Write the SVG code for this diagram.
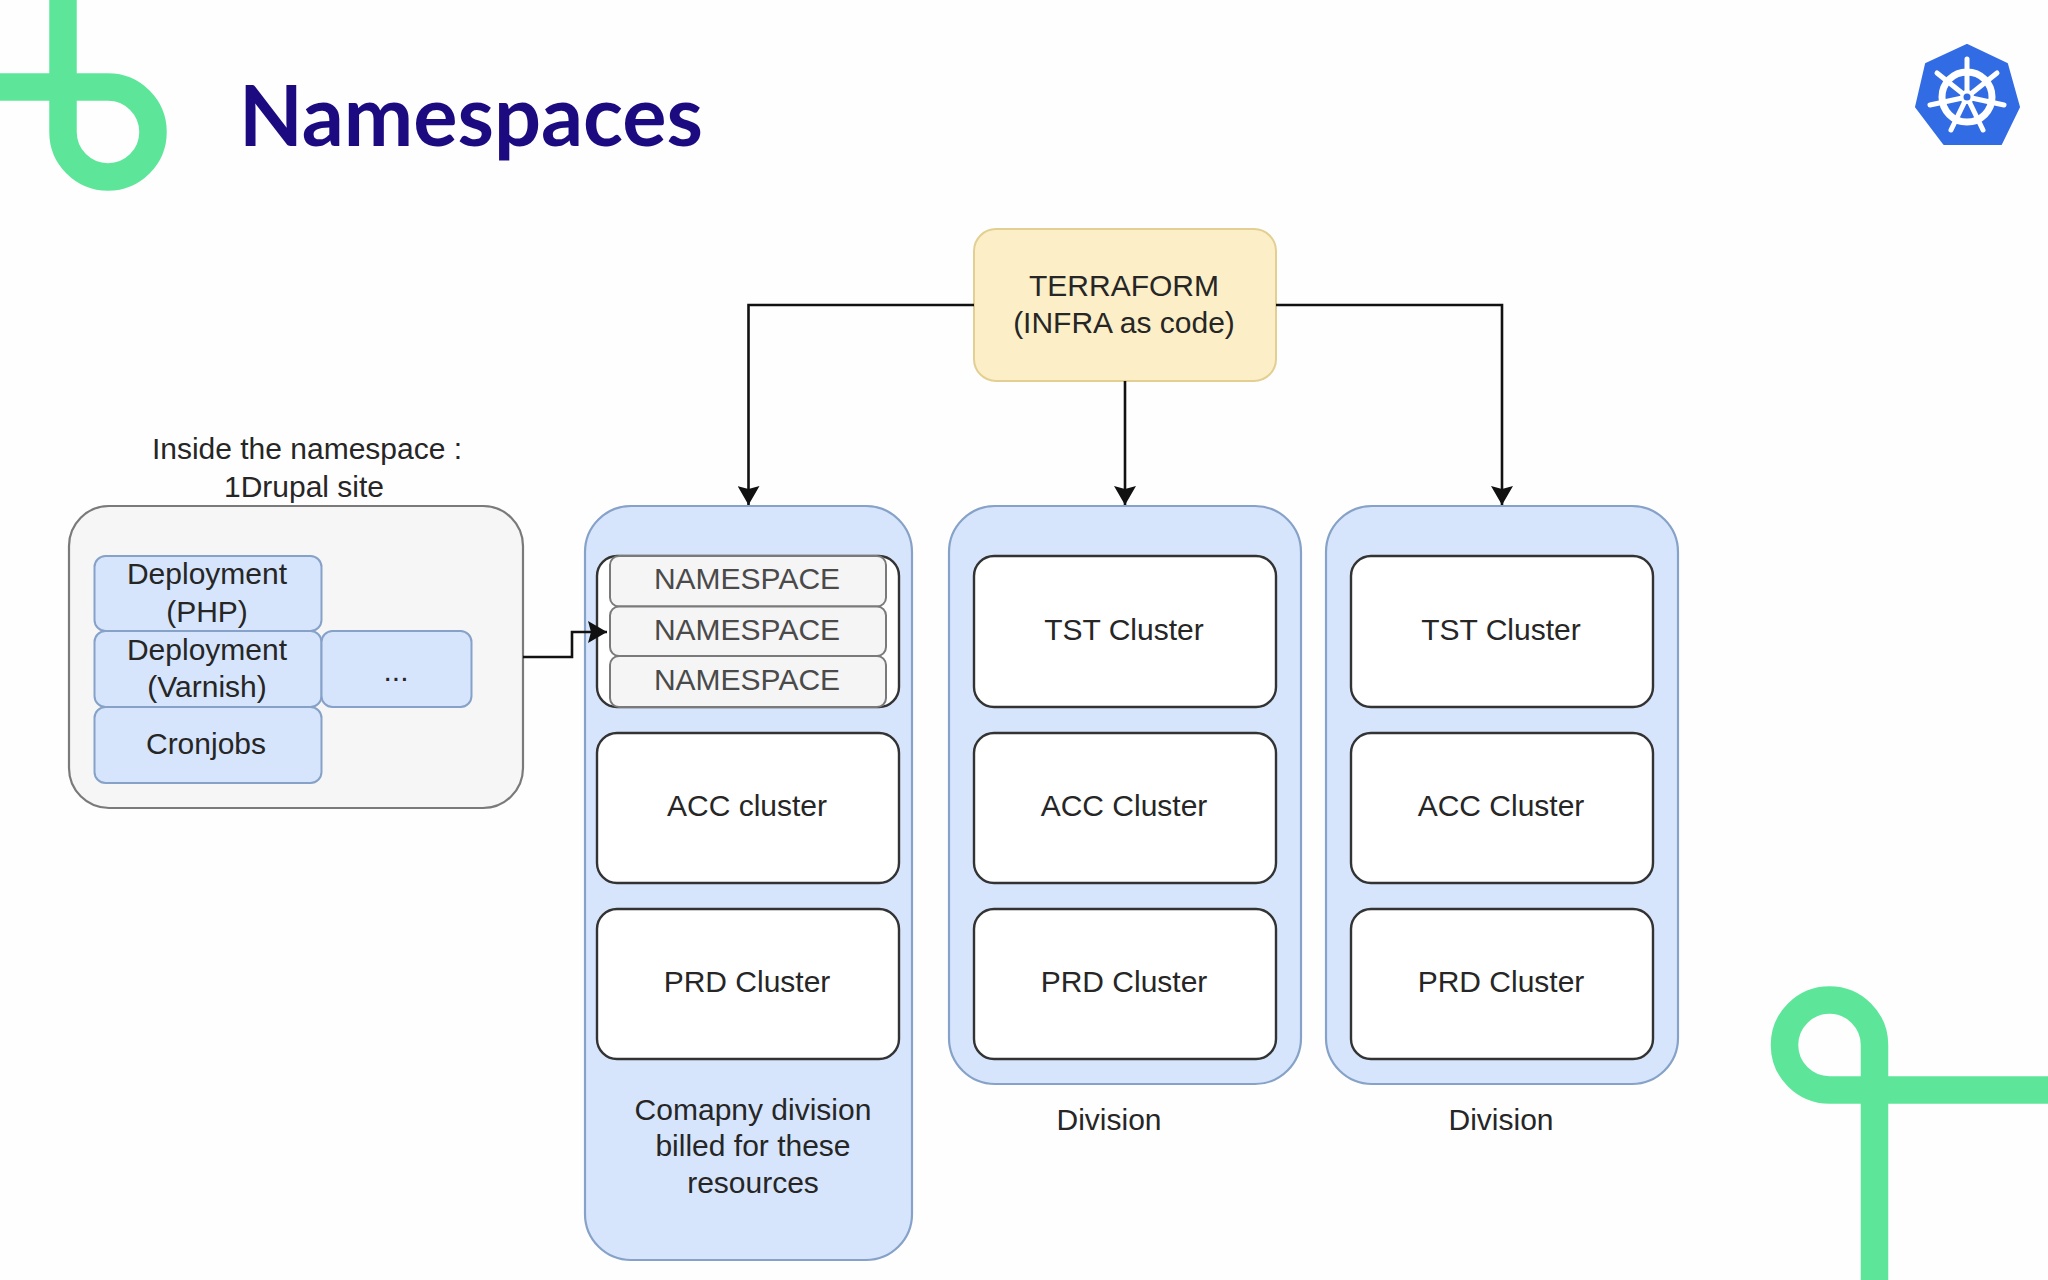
<svg xmlns="http://www.w3.org/2000/svg" width="2048" height="1280" viewBox="0 0 2048 1280">
<style>
text{font-family:"Liberation Sans",Arial,sans-serif;font-size:30px;fill:#262626;text-anchor:middle}
.deco{fill:none;stroke:#5de699;stroke-width:27.5}
.division{fill:#d6e5fb;stroke:#86a2c8;stroke-width:2.2}
.cluster{fill:#fff;stroke:#333;stroke-width:2.4}
.ns rect{fill:#f5f5f5;stroke:#7a7a7a;stroke-width:2}
.ns text{fill:#4a4a4a}
.item rect{fill:#d6e5fb;stroke:#86a2c8;stroke-width:2}
.conn{fill:none;stroke:#111;stroke-width:2.6}
.wheel{fill:none;stroke:#fff;stroke-linecap:round}
</style>
<defs>
<marker id="arrow" markerUnits="userSpaceOnUse" markerWidth="20" markerHeight="22" refX="19" refY="11" orient="auto">
<path d="M0 0L19 11L0 22L3 11Z" fill="#111"/>
</marker>
</defs>
<rect width="2048" height="1280" fill="#fefefe"/>

<g id="decor">
<path class="deco" d="M0 87H108A45 45 0 1 1 63 132V0"/>
<path class="deco" d="M2048 1090H1829.5A45 45 0 1 1 1874.5 1045V1280"/>
</g>

<text id="title" x="239" y="146" text-anchor="start" textLength="464" lengthAdjust="spacingAndGlyphs" style="font-family:Lato,'Open Sans',sans-serif;font-size:85px;font-weight:700;fill:#1c0a80;text-anchor:start">Namespaces</text>

<g id="k8s-logo">
<path d="M1967 45L2007 64L2019 107L2001 144H1944L1916 107L1926 64Z" fill="#326ce5" stroke="#326ce5" stroke-width="2" stroke-linejoin="round"/>
<circle class="wheel" cx="1967" cy="97" r="25" stroke-width="7"/>
<g class="wheel" stroke-width="5">
<path d="M1967 97V59"/>
<path d="M1967 97L1997 73"/>
<path d="M1967 97L2004 105"/>
<path d="M1967 97L1983 130"/>
<path d="M1967 97L1951 130"/>
<path d="M1967 97L1930 105"/>
<path d="M1967 97L1937 73"/>
</g>
<circle cx="1967" cy="97" r="7" fill="#fff"/>
<circle cx="1967" cy="97" r="3.5" fill="#326ce5"/>
</g>

<g id="terraform">
<rect x="974" y="229" width="302" height="152" rx="22" fill="#fcefc7" stroke="#e3cf92" stroke-width="2"/>
<text x="1124" y="296">TERRAFORM</text>
<text x="1124" y="333">(INFRA as code)</text>
</g>

<g id="inside-namespace">
<text x="307" y="459">Inside the namespace :</text>
<text x="304" y="497">1Drupal site</text>
<rect x="69" y="506" width="454" height="302" rx="40" fill="#f6f6f6" stroke="#7a7a7a" stroke-width="2.2"/>
</g>
<g id="deployment-php" class="item">
<rect x="94.500" y="556" width="227" height="75" rx="11"/>
<text x="207" y="584">Deployment</text>
<text x="207" y="622">(PHP)</text>
</g>
<g id="deployment-varnish" class="item">
<rect x="94.500" y="631" width="227" height="76" rx="11"/>
<text x="207" y="660">Deployment</text>
<text x="207" y="697">(Varnish)</text>
</g>
<g id="cronjobs" class="item">
<rect x="94.500" y="707" width="227" height="76" rx="11"/>
<text x="206" y="754">Cronjobs</text>
</g>
<g id="more" class="item">
<rect x="321.500" y="631" width="150" height="76" rx="11"/>
<text x="396" y="681">...</text>
</g>

<g id="division-1">
<rect class="division" x="585" y="506" width="327" height="754" rx="46"/>
<text x="753" y="1120">Comapny division</text>
<text x="753" y="1156">billed for these</text>
<text x="753" y="1193">resources</text>
</g>
<g id="namespace-cluster">
<rect class="cluster" x="597" y="556" width="302" height="151" rx="20"/>
</g>
<g id="namespace-1" class="ns">
<rect x="610" y="556" width="276" height="50.500" rx="9"/>
<text x="747" y="589">NAMESPACE</text>
</g>
<g id="namespace-2" class="ns">
<rect x="610" y="606.500" width="276" height="49.500" rx="9"/>
<text x="747" y="640">NAMESPACE</text>
</g>
<g id="namespace-3" class="ns">
<rect x="610" y="656" width="276" height="51" rx="9"/>
<text x="747" y="690">NAMESPACE</text>
</g>
<g id="acc-1">
<rect class="cluster" x="597" y="733" width="302" height="150" rx="20"/>
<text x="747" y="816">ACC cluster</text>
</g>
<g id="prd-1">
<rect class="cluster" x="597" y="909" width="302" height="150" rx="20"/>
<text x="747" y="992">PRD Cluster</text>
</g>

<g id="division-2">
<rect class="division" x="949" y="506" width="352" height="578" rx="46"/>
<text x="1109" y="1130">Division</text>
</g>
<g id="tst-2">
<rect class="cluster" x="974" y="556" width="302" height="151" rx="20"/>
<text x="1124" y="640">TST Cluster</text>
</g>
<g id="acc-2">
<rect class="cluster" x="974" y="733" width="302" height="150" rx="20"/>
<text x="1124" y="816">ACC Cluster</text>
</g>
<g id="prd-2">
<rect class="cluster" x="974" y="909" width="302" height="150" rx="20"/>
<text x="1124" y="992">PRD Cluster</text>
</g>

<g id="division-3">
<rect class="division" x="1326" y="506" width="352" height="578" rx="46"/>
<text x="1501" y="1130">Division</text>
</g>
<g id="tst-3">
<rect class="cluster" x="1351" y="556" width="302" height="151" rx="20"/>
<text x="1501" y="640">TST Cluster</text>
</g>
<g id="acc-3">
<rect class="cluster" x="1351" y="733" width="302" height="150" rx="20"/>
<text x="1501" y="816">ACC Cluster</text>
</g>
<g id="prd-3">
<rect class="cluster" x="1351" y="909" width="302" height="150" rx="20"/>
<text x="1501" y="992">PRD Cluster</text>
</g>

<g id="connectors">
<path class="conn" d="M974 305H748.500V505" marker-end="url(#arrow)"/>
<path class="conn" d="M1125 381V505" marker-end="url(#arrow)"/>
<path class="conn" d="M1276 305H1502V505" marker-end="url(#arrow)"/>
<path class="conn" d="M523 657H572V632H607" marker-end="url(#arrow)"/>
</g>
</svg>
